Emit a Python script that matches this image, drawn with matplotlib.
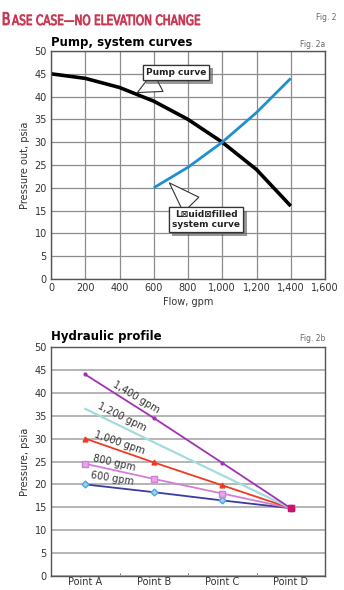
import matplotlib
matplotlib.use("Agg")
import matplotlib.pyplot as plt
from matplotlib import patheffects
from matplotlib.ticker import FuncFormatter, MultipleLocator
from matplotlib.textpath import TextPath
from matplotlib.patches import PathPatch
from matplotlib.transforms import Affine2D, IdentityTransform

# Pump and system curves (Fig. 2a)
pump_flow = [0, 200, 400, 600, 800, 1000, 1200, 1400]
pump_pressure = [45, 44, 42, 39, 35, 30, 24, 16]
system_flow = [600, 800, 1000, 1200, 1400]
system_pressure = [20, 24.5, 30, 36.5, 44]

# Hydraulic profile (Fig. 2b)
points = ["Point A", "Point B", "Point C", "Point D"]
profile_labels = ["600 gpm", "800 gpm", "1,000 gpm", "1,200 gpm", "1,400 gpm"]
profile_values = {
    "600 gpm": [20, 18.3, 16.5, 14.8],
    "800 gpm": [24.5, 21.2, 18.0, 14.8],
    "1,000 gpm": [30, 24.8, 19.8, 14.8],
    "1,200 gpm": [36.5, 29.2, 22.0, 14.8],
    "1,400 gpm": [44, 34.5, 24.7, 14.8],
}

W, H = 344, 590
fig = plt.figure(figsize=(W / 100, H / 100), dpi=100)
fig.patch.set_facecolor("white")


def fx(px):
    return px / W


def fy(py):
    return 1 - py / H


red = "#c8334e"


def squeezed_text(s, x0, baseline, size, width=None, squeeze=0.72):
    # condensed heading text drawn as a path in pixel coordinates
    tp = TextPath((0, 0), s, size=size)
    ext = tp.get_extents()
    sx = squeeze if width is None else width / ext.width
    tr = Affine2D().translate(-ext.x0, 0).scale(sx, 1).translate(x0, H - baseline)
    fig.add_artist(PathPatch(tr.transform_path(tp), transform=IdentityTransform(),
                             fc=red, ec=red, lw=0.6))
    return x0 + ext.width * sx


# heading in small caps
end_b = squeezed_text("B", 3, 25, 17.5)
squeezed_text("ASE CASE\u2014NO ELEVATION CHANGE", end_b + 2.5, 25, 14, width=200 - end_b - 2.5)
fig.text(fx(336), fy(20), "Fig. 2", fontsize=5.5, color="#666666", ha="right", va="baseline")

grid_col = "#8c8c8c"
frame_col = "#555555"
tick_col = "#333333"


def style_axes(ax):
    for s in ax.spines.values():
        s.set_color(frame_col)
        s.set_linewidth(1.0)
    ax.tick_params(labelsize=7, colors=tick_col, length=0, pad=3)


# --- Fig. 2a ---
ax1 = fig.add_axes([fx(51), fy(279), fx(274), 228 / H])
ax1.set_xlim(0, 1600)
ax1.set_ylim(0, 50)
ax1.xaxis.set_major_locator(MultipleLocator(200))
ax1.yaxis.set_major_locator(MultipleLocator(5))
ax1.xaxis.set_major_formatter(FuncFormatter(lambda v, p: f"{int(v):,}"))
ax1.grid(True, color=grid_col, linewidth=0.9)
ax1.set_axisbelow(True)
style_axes(ax1)
ax1.plot(pump_flow, pump_pressure, color="black", lw=2.6, solid_capstyle="butt")
ax1.plot(system_flow, system_pressure, color="#1f8fd0", lw=2.0, solid_capstyle="butt")
ax1.set_xlabel("Flow, gpm", fontsize=7, color=tick_col, labelpad=3)
ax1.set_ylabel("Pressure out, psia", fontsize=7, color=tick_col)
ax1.yaxis.set_label_coords(-0.075, 0.5)
fig.text(fx(51), fy(46), "Pump, system curves", fontsize=8.5, weight="bold", va="baseline")
fig.text(fx(325), fy(47), "Fig. 2a", fontsize=5.5, color="#666666", ha="right", va="baseline")

shadow = [patheffects.withSimplePatchShadow(offset=(2.5, -2.5), shadow_rgbFace="#555555", alpha=0.6),
          patheffects.Normal()]
boxprops = dict(boxstyle="square,pad=0.35", fc="white", ec="#333333", lw=0.9)
arrow = dict(arrowstyle="wedge,tail_width=2.4,shrink_factor=0.5", fc="white", ec="#333333", lw=0.8)

a1 = ax1.annotate("Pump curve", xy=(490, 40.6), xytext=(730, 45.3), fontsize=6.5, weight="bold",
                  ha="center", va="center", bbox=boxprops, arrowprops=arrow, color="#222222")
a1.get_bbox_patch().set_path_effects(shadow)
a2 = ax1.annotate("L\u22a0uid\u22a0filled\nsystem curve", xy=(680, 21.5), xytext=(905, 13.0),
                  fontsize=6.5, weight="bold", ha="center", va="center", bbox=boxprops,
                  arrowprops=arrow, color="#222222", linespacing=1.1)
a2.get_bbox_patch().set_path_effects(shadow)

# --- Fig. 2b ---
ax2 = fig.add_axes([fx(51), fy(576), fx(274), 229 / H])
ax2.set_xlim(-0.5, 3.5)
ax2.set_ylim(0, 50)
ax2.yaxis.set_major_locator(MultipleLocator(5))
ax2.set_xticks(range(len(points)))
ax2.set_xticklabels(points)
ax2.set_xticks([0.5, 1.5, 2.5], minor=True)
ax2.grid(True, axis="y", color="#b4b4b4", linewidth=1.4)
ax2.set_axisbelow(True)
style_axes(ax2)
ax2.tick_params(axis="x", which="minor", length=2, direction="in", color=frame_col)
ax2.tick_params(axis="x", pad=1)
ax2.set_ylabel("Pressure, psia", fontsize=7, color=tick_col)
ax2.yaxis.set_label_coords(-0.075, 0.5)
fig.text(fx(51), fy(340), "Hydraulic profile", fontsize=8.5, weight="bold", va="baseline")
fig.text(fx(325), fy(341), "Fig. 2b", fontsize=5.5, color="#666666", ha="right", va="baseline")

styles = {
    "600 gpm": dict(color="#3b3ba8", marker="D", ms=3.5, mfc="#9fd2f0", mec="#4aa8e0"),
    "800 gpm": dict(color="#d27ed8", marker="s", ms=4, mfc="#e6a6ea", mec="#d27ed8"),
    "1,000 gpm": dict(color="#f03a24", marker="^", ms=3.5, mfc="#f03a24", mec="#f03a24"),
    "1,200 gpm": dict(color="#a2dcdc", marker="", ms=0, lw=1.6),
    "1,400 gpm": dict(color="#a232b4", marker="o", ms=2, mfc="#a232b4", mec="#a232b4"),
}
x = list(range(len(points)))
for name in profile_labels:
    st = dict(lw=1.3)
    st.update(styles[name])
    ax2.plot(x, profile_values[name], **st)
ax2.plot([3], [profile_values["1,400 gpm"][3]], marker="s", ms=4, color="#d0106e", ls="none")

label_pos = {
    "600 gpm": (0.40, 21.4, -9),
    "800 gpm": (0.43, 24.7, -13),
    "1,000 gpm": (0.50, 29.0, -19),
    "1,200 gpm": (0.54, 34.7, -26),
    "1,400 gpm": (0.75, 39.1, -31),
}
for name, (lx, ly, rot) in label_pos.items():
    ax2.text(lx, ly, name, fontsize=7, color="#333333", rotation=rot,
             rotation_mode="anchor", ha="center", va="center")

fig.savefig("out.png", dpi=100)
